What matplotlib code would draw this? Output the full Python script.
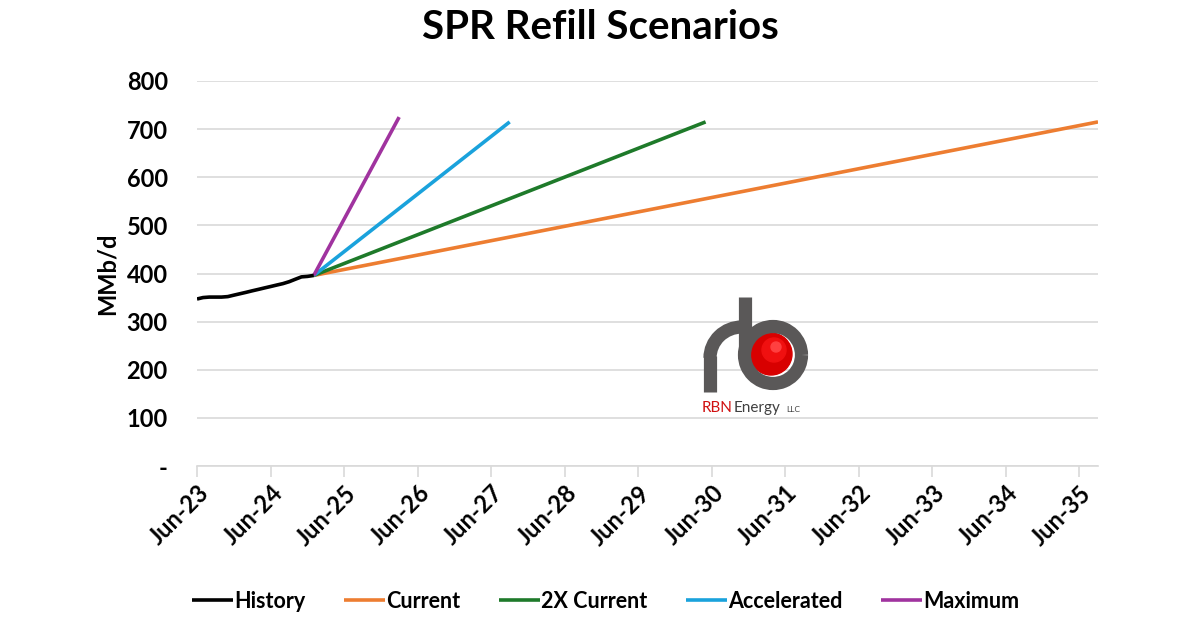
import datetime
import matplotlib
matplotlib.use("Agg")
import matplotlib.pyplot as plt
from matplotlib.patches import Circle, Arc

plt.rcParams['font.family'] = ['Lato', 'DejaVu Sans']
plt.rcParams['font.weight'] = 'bold'

# history, monthly (MMb)
hist_dates = ["2023-06", "2023-07", "2023-08", "2023-09", "2023-10", "2023-11",
              "2023-12", "2024-01", "2024-02", "2024-03", "2024-04", "2024-05",
              "2024-06", "2024-07", "2024-08", "2024-09", "2024-10", "2024-11",
              "2024-12", "2025-01"]
hist_values = [347, 350, 351, 351, 351, 352, 355, 358, 361, 364, 367, 370,
               373, 376, 379, 383, 388, 393, 394, 396]

# scenarios: start point and end point
start_date = "2025-01"
start_value = 396
current_end = ("2035-09", 715)
x2_end = ("2030-05", 715)
accel_end = ("2027-09", 715)
max_end = ("2026-03", 725)

tick_labels = ["Jun-23", "Jun-24", "Jun-25", "Jun-26", "Jun-27", "Jun-28", "Jun-29",
               "Jun-30", "Jun-31", "Jun-32", "Jun-33", "Jun-34", "Jun-35"]
y_ticks = [0, 100, 200, 300, 400, 500, 600, 700, 800]
y_labels = ["-", "100", "200", "300", "400", "500", "600", "700", "800"]


def d(s):
    return datetime.datetime.strptime(s, "%Y-%m")


fig = plt.figure(figsize=(12, 6.3), dpi=100)
ax = fig.add_axes([197 / 1200, 1 - 466 / 630, (1098 - 197) / 1200, (466 - 81) / 630])

lw = 2.6
ax.plot([d(s) for s in hist_dates], hist_values, color='black', lw=lw, label='History',
        zorder=5, solid_capstyle='butt')
ax.plot([d(start_date), d(current_end[0])], [start_value, current_end[1]],
        color='#ED7D31', lw=lw, label='Current', solid_capstyle='butt')
ax.plot([d(start_date), d(x2_end[0])], [start_value, x2_end[1]],
        color='#1E7A2A', lw=lw, label='2X Current', solid_capstyle='butt')
ax.plot([d(start_date), d(accel_end[0])], [start_value, accel_end[1]],
        color='#1AA2DC', lw=lw, label='Accelerated', solid_capstyle='butt')
ax.plot([d(start_date), d(max_end[0])], [start_value, max_end[1]],
        color='#A0339F', lw=lw, label='Maximum', solid_capstyle='butt')

ax.set_xlim(d("2023-06"), d("2035-09"))
ax.set_ylim(0, 800)
ax.set_yticks(y_ticks)
ax.set_yticklabels(y_labels)
ticks = [datetime.datetime(2023 + i, 6, 1) for i in range(len(tick_labels))]
ax.set_xticks(ticks)
ax.set_xticklabels(tick_labels, rotation=45, ha='right', rotation_mode='anchor')

ax.grid(axis='y', color='#D9D9D9', lw=1.2)
ax.set_axisbelow(True)
for side in ['top', 'right', 'left']:
    ax.spines[side].set_visible(False)
ax.spines['bottom'].set_color('#D9D9D9')
ax.spines['bottom'].set_linewidth(1.2)
ax.tick_params(axis='x', direction='out', length=8, width=1.2, color='#D9D9D9',
               labelsize=17, pad=3)
ax.tick_params(axis='y', length=0, labelsize=17, pad=21)
for t in ax.get_xticklabels() + ax.get_yticklabels():
    t.set_fontweight('bold')

ax.set_ylabel("MMb/d", fontsize=17, fontweight='bold', labelpad=6)
fig.suptitle("SPR Refill Scenarios", fontsize=29, fontweight='bold', y=0.985)

fig.legend(*ax.get_legend_handles_labels(), loc='center',
           bbox_to_anchor=(606 / 1200, 1 - 601 / 630), ncol=5, frameon=False,
           handlelength=1.9, handletextpad=0.05, columnspacing=1.8,
           prop={'weight': 'bold', 'size': 15.5})

# RBN logo (approximation), drawn in pixel coordinates
lax = fig.add_axes([0, 0, 1, 1], facecolor='none')
lax.set_xlim(0, 1200)
lax.set_ylim(630, 0)
lax.axis('off')
pipe = '#5A5858'
pw = 9.5
lax.plot([745, 745], [297, 355], color=pipe, lw=pw, solid_capstyle='butt')
lax.plot([710, 710], [392, 356], color=pipe, lw=pw, solid_capstyle='butt')
lax.add_patch(Arc((742, 358), 64, 62, theta1=180, theta2=270, color=pipe, lw=pw))
lax.add_patch(Circle((771, 354), 21, color='#D80000', zorder=3))
lax.add_patch(Circle((774, 350), 12, color='#F01010', zorder=4))
lax.add_patch(Circle((776, 347), 5, color='#FF4040', zorder=4))
lax.add_patch(Arc((773, 355), 57, 57, theta1=0, theta2=360, color=pipe, lw=pw, zorder=5))
lax.text(702, 408, "RBN", color='#D01010', fontsize=11, fontweight='normal',
         ha='left', va='center')
lax.text(734, 408, "Energy", color='#404040', fontsize=11, fontweight='normal',
         ha='left', va='center')
lax.text(786, 410, "LLC", color='#404040', fontsize=6, fontweight='normal',
         ha='left', va='center')

fig.savefig("out.png", dpi=100)
